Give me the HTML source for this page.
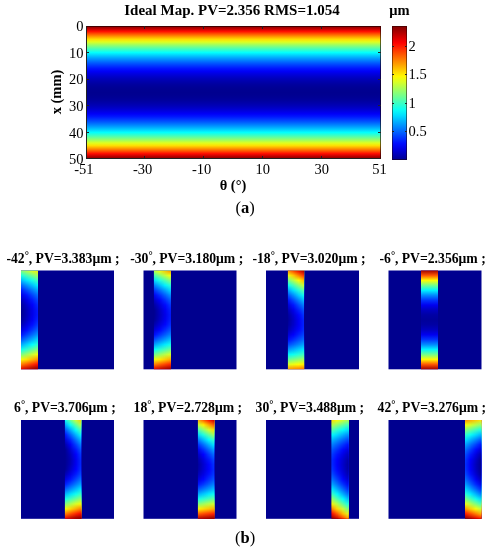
<!DOCTYPE html>
<html><head><meta charset="utf-8"><title>Figure</title>
<style>
html,body{margin:0;padding:0;background:#fff;overflow:hidden}
body{width:492px;height:550px;position:relative;overflow:hidden;font-family:"Liberation Serif",serif;color:#000}
div,i{position:absolute;display:block}
.t{white-space:nowrap;line-height:16px;height:16px}
.hm{left:86px;top:26px;width:294.6px;height:133.2px;background:linear-gradient(180deg,#800000 0.0%,#bd0000 2.0%,#ff0b00 4.0%,#ff5500 6.0%,#ff9b00 8.0%,#ffde00 10.0%,#e0ff1f 12.0%,#a3ff5c 14.0%,#6aff95 16.0%,#34ffcb 18.0%,#02fffd 20.0%,#00d1ff 22.0%,#00a5ff 24.0%,#007cff 26.0%,#0056ff 28.0%,#0034ff 30.0%,#0015ff 32.0%,#0000f8 34.0%,#0000e0 36.0%,#0000ca 38.0%,#0000b8 40.0%,#0000aa 42.0%,#00009e 44.0%,#000096 46.0%,#000091 48.0%,#00008f 50.0%,#000091 52.0%,#000096 54.0%,#00009e 56.0%,#0000aa 58.0%,#0000b8 60.0%,#0000ca 62.0%,#0000e0 64.0%,#0000f8 66.0%,#0015ff 68.0%,#0034ff 70.0%,#0056ff 72.0%,#007cff 74.0%,#00a5ff 76.0%,#00d1ff 78.0%,#02fffd 80.0%,#34ffcb 82.0%,#6aff95 84.0%,#a3ff5c 86.0%,#e0ff1f 88.0%,#ffde00 90.0%,#ff9b00 92.0%,#ff5500 94.0%,#ff0b00 96.0%,#bd0000 98.0%,#800000 100.0%)}
.ax{left:86px;top:26px;width:294.6px;height:133.2px;box-sizing:border-box;border:1px solid rgba(20,0,0,.6);border-left-color:#222;border-bottom-color:#222}
.cb{left:392px;top:26px;width:15px;height:133.6px;background:linear-gradient(180deg,#800000 0.0%,#a90000 4.2%,#d30000 8.3%,#fd0000 12.5%,#ff2800 16.7%,#ff5200 20.8%,#ff7c00 25.0%,#ffa500 29.2%,#ffcf00 33.3%,#fff900 37.5%,#dbff24 41.7%,#b1ff4e 45.8%,#87ff78 50.0%,#5effa1 54.2%,#34ffcb 58.3%,#0afff5 62.5%,#00dfff 66.7%,#00b5ff 70.8%,#008bff 75.0%,#0062ff 79.2%,#0038ff 83.3%,#000eff 87.5%,#0000e3 91.7%,#0000b9 95.8%,#00008f 100.0%)}
.cbx{left:392px;top:26px;width:15px;height:133.6px;box-sizing:border-box;border:1px solid rgba(30,0,0,.5)}
.tk{background:#222}
.yl{font-size:14.5px;text-align:right;width:30px;left:53.5px}
.xl{font-size:14.5px;text-align:center;width:40px;top:160.8px}
.cl{font-size:14.5px;left:408.5px}
.b{font-weight:bold}
.pn{width:93px;height:98.8px;background:#00008f;overflow:hidden}
.pn i{top:0;height:100%}
.pt{width:160px;text-align:center;font-weight:bold;font-size:13.7px;white-space:nowrap;line-height:16px;height:16px}
.pt sup{font-size:10.5px;position:relative;display:inline;top:-4.5px;margin:0 -0.2px 0 0;vertical-align:baseline;line-height:0;font-weight:bold}
.cap{font-size:16.5px;width:60px;text-align:center;line-height:20px;height:20px}
</style></head><body>
<div class="t b" style="left:82px;width:300px;text-align:center;top:2px;font-size:15px">Ideal Map. PV=2.356 RMS=1.054</div>
<div class="t b" style="left:389.3px;top:2.4px;font-size:14.5px">μm</div>
<div class="hm"></div><div class="ax"></div><div class="cb"></div><div class="cbx"></div>
<div class="t yl" style="top:18.0px">0</div>
<div class="t yl" style="top:44.6px">10</div>
<div class="tk" style="left:86px;top:52.1px;width:3px;height:1px"></div><div class="tk" style="left:377.6px;top:52.1px;width:3px;height:1px"></div>
<div class="t yl" style="top:71.3px">20</div>
<div class="tk" style="left:86px;top:78.8px;width:3px;height:1px"></div><div class="tk" style="left:377.6px;top:78.8px;width:3px;height:1px"></div>
<div class="t yl" style="top:97.9px">30</div>
<div class="tk" style="left:86px;top:105.4px;width:3px;height:1px"></div><div class="tk" style="left:377.6px;top:105.4px;width:3px;height:1px"></div>
<div class="t yl" style="top:124.6px">40</div>
<div class="tk" style="left:86px;top:132.1px;width:3px;height:1px"></div><div class="tk" style="left:377.6px;top:132.1px;width:3px;height:1px"></div>
<div class="t yl" style="top:151.2px">50</div>
<div class="t b" style="font-size:14.5px;width:60px;text-align:center;left:26.3px;top:84px;transform:rotate(-90deg)">x (mm)</div>
<div class="t xl" style="left:63.8px">-51</div>
<div class="t xl" style="left:122.7px">-30</div>
<div class="tk" style="left:144.4px;top:156.2px;width:1px;height:3px"></div><div class="tk" style="left:144.4px;top:26px;width:1px;height:3px"></div>
<div class="t xl" style="left:181.6px">-10</div>
<div class="tk" style="left:203.3px;top:156.2px;width:1px;height:3px"></div><div class="tk" style="left:203.3px;top:26px;width:1px;height:3px"></div>
<div class="t xl" style="left:242.8px">10</div>
<div class="tk" style="left:262.3px;top:156.2px;width:1px;height:3px"></div><div class="tk" style="left:262.3px;top:26px;width:1px;height:3px"></div>
<div class="t xl" style="left:301.7px">30</div>
<div class="tk" style="left:321.2px;top:156.2px;width:1px;height:3px"></div><div class="tk" style="left:321.2px;top:26px;width:1px;height:3px"></div>
<div class="t xl" style="left:359.6px">51</div>
<div class="t b" style="font-size:14.5px;left:183px;width:100px;text-align:center;top:176.5px">θ (°)</div>
<div class="t cl" style="top:37.9px">2</div>
<div class="tk" style="left:392px;top:46.0px;width:2px;height:1px"></div><div class="tk" style="left:405px;top:46.0px;width:2px;height:1px"></div>
<div class="t cl" style="top:66.3px">1.5</div>
<div class="tk" style="left:392px;top:74.4px;width:2px;height:1px"></div><div class="tk" style="left:405px;top:74.4px;width:2px;height:1px"></div>
<div class="t cl" style="top:94.7px">1</div>
<div class="tk" style="left:392px;top:102.8px;width:2px;height:1px"></div><div class="tk" style="left:405px;top:102.8px;width:2px;height:1px"></div>
<div class="t cl" style="top:123.1px">0.5</div>
<div class="tk" style="left:392px;top:131.2px;width:2px;height:1px"></div><div class="tk" style="left:405px;top:131.2px;width:2px;height:1px"></div>
<div class="cap" style="left:215.2px;top:198.3px">(<b>a</b>)</div>
<svg width="492" height="550" viewBox="0 0 492 550" style="position:absolute;left:0;top:0"><defs><linearGradient id="g0_0" x1="0" y1="0" x2="0" y2="1"><stop offset="0" stop-color="#8bff74"/><stop offset="0.05" stop-color="#1bffe4"/><stop offset="0.1" stop-color="#00b8ff"/><stop offset="0.15" stop-color="#0063ff"/><stop offset="0.2" stop-color="#001cff"/><stop offset="0.25" stop-color="#0000e3"/><stop offset="0.3" stop-color="#0000b8"/><stop offset="0.35" stop-color="#00009b"/><stop offset="0.4" stop-color="#00008f"/><stop offset="0.45" stop-color="#00008f"/><stop offset="0.5" stop-color="#000097"/><stop offset="0.55" stop-color="#0000b2"/><stop offset="0.6" stop-color="#0000da"/><stop offset="0.65" stop-color="#0011ff"/><stop offset="0.7" stop-color="#0056ff"/><stop offset="0.75" stop-color="#00a8ff"/><stop offset="0.8" stop-color="#09fff6"/><stop offset="0.85" stop-color="#77ff88"/><stop offset="0.9" stop-color="#f2ff0d"/><stop offset="0.95" stop-color="#ff8200"/><stop offset="1" stop-color="#ea0000"/></linearGradient><linearGradient id="g0_1" x1="0" y1="0" x2="0" y2="1"><stop offset="0" stop-color="#b9ff46"/><stop offset="0.05" stop-color="#49ffb6"/><stop offset="0.1" stop-color="#00e6ff"/><stop offset="0.15" stop-color="#0092ff"/><stop offset="0.2" stop-color="#004bff"/><stop offset="0.25" stop-color="#0013ff"/><stop offset="0.3" stop-color="#0000e7"/><stop offset="0.35" stop-color="#0000ca"/><stop offset="0.4" stop-color="#0000ba"/><stop offset="0.45" stop-color="#0000b9"/><stop offset="0.5" stop-color="#0000c5"/><stop offset="0.55" stop-color="#0000e0"/><stop offset="0.6" stop-color="#0009ff"/><stop offset="0.65" stop-color="#003eff"/><stop offset="0.7" stop-color="#0082ff"/><stop offset="0.75" stop-color="#00d3ff"/><stop offset="0.8" stop-color="#33ffcc"/><stop offset="0.85" stop-color="#a0ff5f"/><stop offset="0.9" stop-color="#ffe300"/><stop offset="0.95" stop-color="#ff5a00"/><stop offset="1" stop-color="#c30000"/></linearGradient><linearGradient id="h0_1" gradientUnits="userSpaceOnUse" x1="21.00" y1="0" x2="26.67" y2="0"><stop offset="0" stop-color="#000"/><stop offset="1" stop-color="#fff"/></linearGradient><mask id="m0_1" maskUnits="userSpaceOnUse" x="21.00" y="270.5" width="17.00" height="98.8"><rect x="21.00" y="270.5" width="17.00" height="98.8" fill="url(#h0_1)"/></mask><linearGradient id="g0_2" x1="0" y1="0" x2="0" y2="1"><stop offset="0" stop-color="#e7ff18"/><stop offset="0.05" stop-color="#77ff88"/><stop offset="0.1" stop-color="#16ffe9"/><stop offset="0.15" stop-color="#00c1ff"/><stop offset="0.2" stop-color="#007aff"/><stop offset="0.25" stop-color="#0042ff"/><stop offset="0.3" stop-color="#0017ff"/><stop offset="0.35" stop-color="#0000f9"/><stop offset="0.4" stop-color="#0000e9"/><stop offset="0.45" stop-color="#0000e8"/><stop offset="0.5" stop-color="#0000f4"/><stop offset="0.55" stop-color="#000fff"/><stop offset="0.6" stop-color="#0036ff"/><stop offset="0.65" stop-color="#006bff"/><stop offset="0.7" stop-color="#00aeff"/><stop offset="0.75" stop-color="#00ffff"/><stop offset="0.8" stop-color="#5effa1"/><stop offset="0.85" stop-color="#caff35"/><stop offset="0.9" stop-color="#ffba00"/><stop offset="0.95" stop-color="#ff3200"/><stop offset="1" stop-color="#9c0000"/></linearGradient><linearGradient id="h0_2" gradientUnits="userSpaceOnUse" x1="26.67" y1="0" x2="32.33" y2="0"><stop offset="0" stop-color="#000"/><stop offset="1" stop-color="#fff"/></linearGradient><mask id="m0_2" maskUnits="userSpaceOnUse" x="26.67" y="270.5" width="11.33" height="98.8"><rect x="26.67" y="270.5" width="11.33" height="98.8" fill="url(#h0_2)"/></mask><linearGradient id="g0_3" x1="0" y1="0" x2="0" y2="1"><stop offset="0" stop-color="#ffe900"/><stop offset="0.05" stop-color="#a6ff59"/><stop offset="0.1" stop-color="#44ffbb"/><stop offset="0.15" stop-color="#00f0ff"/><stop offset="0.2" stop-color="#00a9ff"/><stop offset="0.25" stop-color="#0071ff"/><stop offset="0.3" stop-color="#0046ff"/><stop offset="0.35" stop-color="#0029ff"/><stop offset="0.4" stop-color="#0019ff"/><stop offset="0.45" stop-color="#0017ff"/><stop offset="0.5" stop-color="#0023ff"/><stop offset="0.55" stop-color="#003dff"/><stop offset="0.6" stop-color="#0064ff"/><stop offset="0.65" stop-color="#0098ff"/><stop offset="0.7" stop-color="#00dbff"/><stop offset="0.75" stop-color="#2cffd3"/><stop offset="0.8" stop-color="#89ff76"/><stop offset="0.85" stop-color="#f4ff0b"/><stop offset="0.9" stop-color="#ff9100"/><stop offset="0.95" stop-color="#ff0a00"/><stop offset="1" stop-color="#800000"/></linearGradient><linearGradient id="h0_3" gradientUnits="userSpaceOnUse" x1="32.33" y1="0" x2="38.00" y2="0"><stop offset="0" stop-color="#000"/><stop offset="1" stop-color="#fff"/></linearGradient><mask id="m0_3" maskUnits="userSpaceOnUse" x="32.33" y="270.5" width="5.67" height="98.8"><rect x="32.33" y="270.5" width="5.67" height="98.8" fill="url(#h0_3)"/></mask><linearGradient id="g1_0" x1="0" y1="0" x2="0" y2="1"><stop offset="0" stop-color="#beff41"/><stop offset="0.05" stop-color="#46ffb9"/><stop offset="0.1" stop-color="#00dbff"/><stop offset="0.15" stop-color="#0080ff"/><stop offset="0.2" stop-color="#0033ff"/><stop offset="0.25" stop-color="#0000f3"/><stop offset="0.3" stop-color="#0000c3"/><stop offset="0.35" stop-color="#0000a2"/><stop offset="0.4" stop-color="#00008f"/><stop offset="0.45" stop-color="#00008f"/><stop offset="0.5" stop-color="#000093"/><stop offset="0.55" stop-color="#0000ac"/><stop offset="0.6" stop-color="#0000d2"/><stop offset="0.65" stop-color="#0008ff"/><stop offset="0.7" stop-color="#004cff"/><stop offset="0.75" stop-color="#009eff"/><stop offset="0.8" stop-color="#00ffff"/><stop offset="0.85" stop-color="#6eff91"/><stop offset="0.9" stop-color="#ecff13"/><stop offset="0.95" stop-color="#ff8600"/><stop offset="1" stop-color="#eb0000"/></linearGradient><linearGradient id="g1_1" x1="0" y1="0" x2="0" y2="1"><stop offset="0" stop-color="#feff01"/><stop offset="0.05" stop-color="#84ff7b"/><stop offset="0.1" stop-color="#18ffe7"/><stop offset="0.15" stop-color="#00baff"/><stop offset="0.2" stop-color="#006bff"/><stop offset="0.25" stop-color="#002bff"/><stop offset="0.3" stop-color="#0000f8"/><stop offset="0.35" stop-color="#0000d5"/><stop offset="0.4" stop-color="#0000c0"/><stop offset="0.45" stop-color="#0000ba"/><stop offset="0.5" stop-color="#0000c2"/><stop offset="0.55" stop-color="#0000d8"/><stop offset="0.6" stop-color="#0000fe"/><stop offset="0.65" stop-color="#0032ff"/><stop offset="0.7" stop-color="#0074ff"/><stop offset="0.75" stop-color="#00c5ff"/><stop offset="0.8" stop-color="#25ffda"/><stop offset="0.85" stop-color="#93ff6c"/><stop offset="0.9" stop-color="#ffef00"/><stop offset="0.95" stop-color="#ff6500"/><stop offset="1" stop-color="#cb0000"/></linearGradient><linearGradient id="h1_1" gradientUnits="userSpaceOnUse" x1="153.90" y1="0" x2="159.57" y2="0"><stop offset="0" stop-color="#000"/><stop offset="1" stop-color="#fff"/></linearGradient><mask id="m1_1" maskUnits="userSpaceOnUse" x="153.90" y="270.5" width="17.00" height="98.8"><rect x="153.90" y="270.5" width="17.00" height="98.8" fill="url(#h1_1)"/></mask><linearGradient id="g1_2" x1="0" y1="0" x2="0" y2="1"><stop offset="0" stop-color="#ffc000"/><stop offset="0.05" stop-color="#c1ff3e"/><stop offset="0.1" stop-color="#54ffab"/><stop offset="0.15" stop-color="#00f4ff"/><stop offset="0.2" stop-color="#00a3ff"/><stop offset="0.25" stop-color="#0061ff"/><stop offset="0.3" stop-color="#002eff"/><stop offset="0.35" stop-color="#0009ff"/><stop offset="0.4" stop-color="#0000f2"/><stop offset="0.45" stop-color="#0000ea"/><stop offset="0.5" stop-color="#0000f0"/><stop offset="0.55" stop-color="#0006ff"/><stop offset="0.6" stop-color="#002aff"/><stop offset="0.65" stop-color="#005cff"/><stop offset="0.7" stop-color="#009dff"/><stop offset="0.75" stop-color="#00ecff"/><stop offset="0.8" stop-color="#4bffb4"/><stop offset="0.85" stop-color="#b7ff48"/><stop offset="0.9" stop-color="#ffcc00"/><stop offset="0.95" stop-color="#ff4300"/><stop offset="1" stop-color="#aa0000"/></linearGradient><linearGradient id="h1_2" gradientUnits="userSpaceOnUse" x1="159.57" y1="0" x2="165.23" y2="0"><stop offset="0" stop-color="#000"/><stop offset="1" stop-color="#fff"/></linearGradient><mask id="m1_2" maskUnits="userSpaceOnUse" x="159.57" y="270.5" width="11.33" height="98.8"><rect x="159.57" y="270.5" width="11.33" height="98.8" fill="url(#h1_2)"/></mask><linearGradient id="g1_3" x1="0" y1="0" x2="0" y2="1"><stop offset="0" stop-color="#ff8100"/><stop offset="0.05" stop-color="#ffff00"/><stop offset="0.1" stop-color="#90ff6f"/><stop offset="0.15" stop-color="#2fffd0"/><stop offset="0.2" stop-color="#00dcff"/><stop offset="0.25" stop-color="#0098ff"/><stop offset="0.3" stop-color="#0063ff"/><stop offset="0.35" stop-color="#003cff"/><stop offset="0.4" stop-color="#0024ff"/><stop offset="0.45" stop-color="#001bff"/><stop offset="0.5" stop-color="#0020ff"/><stop offset="0.55" stop-color="#0033ff"/><stop offset="0.6" stop-color="#0055ff"/><stop offset="0.65" stop-color="#0086ff"/><stop offset="0.7" stop-color="#00c5ff"/><stop offset="0.75" stop-color="#14ffeb"/><stop offset="0.8" stop-color="#70ff8f"/><stop offset="0.85" stop-color="#dbff24"/><stop offset="0.9" stop-color="#ffa900"/><stop offset="0.95" stop-color="#ff2100"/><stop offset="1" stop-color="#8a0000"/></linearGradient><linearGradient id="h1_3" gradientUnits="userSpaceOnUse" x1="165.23" y1="0" x2="170.90" y2="0"><stop offset="0" stop-color="#000"/><stop offset="1" stop-color="#fff"/></linearGradient><mask id="m1_3" maskUnits="userSpaceOnUse" x="165.23" y="270.5" width="5.67" height="98.8"><rect x="165.23" y="270.5" width="5.67" height="98.8" fill="url(#h1_3)"/></mask><linearGradient id="g2_0" x1="0" y1="0" x2="0" y2="1"><stop offset="0" stop-color="#ff8b00"/><stop offset="0.05" stop-color="#e9ff16"/><stop offset="0.1" stop-color="#6dff92"/><stop offset="0.15" stop-color="#00ffff"/><stop offset="0.2" stop-color="#00a0ff"/><stop offset="0.25" stop-color="#004fff"/><stop offset="0.3" stop-color="#000eff"/><stop offset="0.35" stop-color="#0000d9"/><stop offset="0.4" stop-color="#0000b4"/><stop offset="0.45" stop-color="#00009e"/><stop offset="0.5" stop-color="#000096"/><stop offset="0.55" stop-color="#00009c"/><stop offset="0.6" stop-color="#0000b1"/><stop offset="0.65" stop-color="#0000d5"/><stop offset="0.7" stop-color="#0008ff"/><stop offset="0.75" stop-color="#0048ff"/><stop offset="0.8" stop-color="#0097ff"/><stop offset="0.85" stop-color="#00f4ff"/><stop offset="0.9" stop-color="#61ff9e"/><stop offset="0.95" stop-color="#dbff24"/><stop offset="1" stop-color="#ff9a00"/></linearGradient><linearGradient id="g2_1" x1="0" y1="0" x2="0" y2="1"><stop offset="0" stop-color="#ff3b00"/><stop offset="0.05" stop-color="#ffc800"/><stop offset="0.1" stop-color="#b7ff48"/><stop offset="0.15" stop-color="#46ffb9"/><stop offset="0.2" stop-color="#00e3ff"/><stop offset="0.25" stop-color="#0090ff"/><stop offset="0.3" stop-color="#004bff"/><stop offset="0.35" stop-color="#0014ff"/><stop offset="0.4" stop-color="#0000eb"/><stop offset="0.45" stop-color="#0000d1"/><stop offset="0.5" stop-color="#0000c6"/><stop offset="0.55" stop-color="#0000c9"/><stop offset="0.6" stop-color="#0000db"/><stop offset="0.65" stop-color="#0000fb"/><stop offset="0.7" stop-color="#002bff"/><stop offset="0.75" stop-color="#0068ff"/><stop offset="0.8" stop-color="#00b3ff"/><stop offset="0.85" stop-color="#0efff1"/><stop offset="0.9" stop-color="#77ff88"/><stop offset="0.95" stop-color="#eeff11"/><stop offset="1" stop-color="#ff8b00"/></linearGradient><linearGradient id="h2_1" gradientUnits="userSpaceOnUse" x1="287.90" y1="0" x2="293.37" y2="0"><stop offset="0" stop-color="#000"/><stop offset="1" stop-color="#fff"/></linearGradient><mask id="m2_1" maskUnits="userSpaceOnUse" x="287.90" y="270.5" width="16.40" height="98.8"><rect x="287.90" y="270.5" width="16.40" height="98.8" fill="url(#h2_1)"/></mask><linearGradient id="g2_2" x1="0" y1="0" x2="0" y2="1"><stop offset="0" stop-color="#ea0000"/><stop offset="0.05" stop-color="#ff7b00"/><stop offset="0.1" stop-color="#fffe00"/><stop offset="0.15" stop-color="#8dff72"/><stop offset="0.2" stop-color="#28ffd7"/><stop offset="0.25" stop-color="#00d0ff"/><stop offset="0.3" stop-color="#0088ff"/><stop offset="0.35" stop-color="#004eff"/><stop offset="0.4" stop-color="#0022ff"/><stop offset="0.45" stop-color="#0005ff"/><stop offset="0.5" stop-color="#0000f6"/><stop offset="0.55" stop-color="#0000f6"/><stop offset="0.6" stop-color="#0005ff"/><stop offset="0.65" stop-color="#0022ff"/><stop offset="0.7" stop-color="#004eff"/><stop offset="0.75" stop-color="#0087ff"/><stop offset="0.8" stop-color="#00d0ff"/><stop offset="0.85" stop-color="#27ffd8"/><stop offset="0.9" stop-color="#8dff72"/><stop offset="0.95" stop-color="#fffe00"/><stop offset="1" stop-color="#ff7c00"/></linearGradient><linearGradient id="h2_2" gradientUnits="userSpaceOnUse" x1="293.37" y1="0" x2="298.83" y2="0"><stop offset="0" stop-color="#000"/><stop offset="1" stop-color="#fff"/></linearGradient><mask id="m2_2" maskUnits="userSpaceOnUse" x="293.37" y="270.5" width="10.93" height="98.8"><rect x="293.37" y="270.5" width="10.93" height="98.8" fill="url(#h2_2)"/></mask><linearGradient id="g2_3" x1="0" y1="0" x2="0" y2="1"><stop offset="0" stop-color="#9a0000"/><stop offset="0.05" stop-color="#ff2f00"/><stop offset="0.1" stop-color="#ffb400"/><stop offset="0.15" stop-color="#d3ff2c"/><stop offset="0.2" stop-color="#6bff94"/><stop offset="0.25" stop-color="#11ffee"/><stop offset="0.3" stop-color="#00c5ff"/><stop offset="0.35" stop-color="#0088ff"/><stop offset="0.4" stop-color="#0059ff"/><stop offset="0.45" stop-color="#0039ff"/><stop offset="0.5" stop-color="#0027ff"/><stop offset="0.55" stop-color="#0024ff"/><stop offset="0.6" stop-color="#002fff"/><stop offset="0.65" stop-color="#0049ff"/><stop offset="0.7" stop-color="#0071ff"/><stop offset="0.75" stop-color="#00a7ff"/><stop offset="0.8" stop-color="#00ecff"/><stop offset="0.85" stop-color="#41ffbe"/><stop offset="0.9" stop-color="#a2ff5d"/><stop offset="0.95" stop-color="#ffeb00"/><stop offset="1" stop-color="#ff6c00"/></linearGradient><linearGradient id="h2_3" gradientUnits="userSpaceOnUse" x1="298.83" y1="0" x2="304.30" y2="0"><stop offset="0" stop-color="#000"/><stop offset="1" stop-color="#fff"/></linearGradient><mask id="m2_3" maskUnits="userSpaceOnUse" x="298.83" y="270.5" width="5.47" height="98.8"><rect x="298.83" y="270.5" width="5.47" height="98.8" fill="url(#h2_3)"/></mask><linearGradient id="g3_0" x1="0" y1="0" x2="0" y2="1"><stop offset="0" stop-color="#a10000"/><stop offset="0.05" stop-color="#ff5800"/><stop offset="0.1" stop-color="#fffc00"/><stop offset="0.15" stop-color="#72ff8d"/><stop offset="0.2" stop-color="#00f5ff"/><stop offset="0.25" stop-color="#008bff"/><stop offset="0.3" stop-color="#0035ff"/><stop offset="0.35" stop-color="#0000f0"/><stop offset="0.4" stop-color="#0000c0"/><stop offset="0.45" stop-color="#0000a4"/><stop offset="0.5" stop-color="#00009a"/><stop offset="0.55" stop-color="#0000a4"/><stop offset="0.6" stop-color="#0000c0"/><stop offset="0.65" stop-color="#0000f0"/><stop offset="0.7" stop-color="#0035ff"/><stop offset="0.75" stop-color="#008bff"/><stop offset="0.8" stop-color="#00f5ff"/><stop offset="0.85" stop-color="#72ff8d"/><stop offset="0.9" stop-color="#fffc00"/><stop offset="0.95" stop-color="#ff5800"/><stop offset="1" stop-color="#a10000"/></linearGradient><linearGradient id="g4_0" x1="0" y1="0" x2="0" y2="1"><stop offset="0" stop-color="#01fffe"/><stop offset="0.05" stop-color="#00a3ff"/><stop offset="0.1" stop-color="#0052ff"/><stop offset="0.15" stop-color="#000eff"/><stop offset="0.2" stop-color="#0000d5"/><stop offset="0.25" stop-color="#0000aa"/><stop offset="0.3" stop-color="#00008f"/><stop offset="0.35" stop-color="#00008f"/><stop offset="0.4" stop-color="#00008f"/><stop offset="0.45" stop-color="#00008f"/><stop offset="0.5" stop-color="#000090"/><stop offset="0.55" stop-color="#0000b0"/><stop offset="0.6" stop-color="#0000dd"/><stop offset="0.65" stop-color="#0018ff"/><stop offset="0.7" stop-color="#005eff"/><stop offset="0.75" stop-color="#00b1ff"/><stop offset="0.8" stop-color="#11ffee"/><stop offset="0.85" stop-color="#7eff81"/><stop offset="0.9" stop-color="#f6ff09"/><stop offset="0.95" stop-color="#ff8300"/><stop offset="1" stop-color="#f00000"/></linearGradient><linearGradient id="g4_1" x1="0" y1="0" x2="0" y2="1"><stop offset="0" stop-color="#67ff98"/><stop offset="0.05" stop-color="#03fffc"/><stop offset="0.1" stop-color="#00abff"/><stop offset="0.15" stop-color="#0061ff"/><stop offset="0.2" stop-color="#0024ff"/><stop offset="0.25" stop-color="#0000f4"/><stop offset="0.3" stop-color="#0000d1"/><stop offset="0.35" stop-color="#0000bb"/><stop offset="0.4" stop-color="#0000b2"/><stop offset="0.45" stop-color="#0000b6"/><stop offset="0.5" stop-color="#0000c7"/><stop offset="0.55" stop-color="#0000e5"/><stop offset="0.6" stop-color="#0011ff"/><stop offset="0.65" stop-color="#0049ff"/><stop offset="0.7" stop-color="#008eff"/><stop offset="0.75" stop-color="#00e0ff"/><stop offset="0.8" stop-color="#40ffbf"/><stop offset="0.85" stop-color="#acff53"/><stop offset="0.9" stop-color="#ffd900"/><stop offset="0.95" stop-color="#ff5300"/><stop offset="1" stop-color="#bf0000"/></linearGradient><linearGradient id="h4_1" gradientUnits="userSpaceOnUse" x1="64.90" y1="0" x2="70.43" y2="0"><stop offset="0" stop-color="#000"/><stop offset="1" stop-color="#fff"/></linearGradient><mask id="m4_1" maskUnits="userSpaceOnUse" x="64.90" y="420" width="16.60" height="98.8"><rect x="64.90" y="420" width="16.60" height="98.8" fill="url(#h4_1)"/></mask><linearGradient id="g4_2" x1="0" y1="0" x2="0" y2="1"><stop offset="0" stop-color="#cdff32"/><stop offset="0.05" stop-color="#63ff9c"/><stop offset="0.1" stop-color="#06fff9"/><stop offset="0.15" stop-color="#00b5ff"/><stop offset="0.2" stop-color="#0073ff"/><stop offset="0.25" stop-color="#003eff"/><stop offset="0.3" stop-color="#0017ff"/><stop offset="0.35" stop-color="#0000fc"/><stop offset="0.4" stop-color="#0000ef"/><stop offset="0.45" stop-color="#0000f0"/><stop offset="0.5" stop-color="#0000fe"/><stop offset="0.55" stop-color="#001aff"/><stop offset="0.6" stop-color="#0043ff"/><stop offset="0.65" stop-color="#007aff"/><stop offset="0.7" stop-color="#00bdff"/><stop offset="0.75" stop-color="#0ffff0"/><stop offset="0.8" stop-color="#6eff91"/><stop offset="0.85" stop-color="#daff25"/><stop offset="0.9" stop-color="#ffab00"/><stop offset="0.95" stop-color="#ff2400"/><stop offset="1" stop-color="#8f0000"/></linearGradient><linearGradient id="h4_2" gradientUnits="userSpaceOnUse" x1="70.43" y1="0" x2="75.97" y2="0"><stop offset="0" stop-color="#000"/><stop offset="1" stop-color="#fff"/></linearGradient><mask id="m4_2" maskUnits="userSpaceOnUse" x="70.43" y="420" width="11.07" height="98.8"><rect x="70.43" y="420" width="11.07" height="98.8" fill="url(#h4_2)"/></mask><linearGradient id="g4_3" x1="0" y1="0" x2="0" y2="1"><stop offset="0" stop-color="#ffcb00"/><stop offset="0.05" stop-color="#c2ff3d"/><stop offset="0.1" stop-color="#5fffa0"/><stop offset="0.15" stop-color="#0afff5"/><stop offset="0.2" stop-color="#00c1ff"/><stop offset="0.25" stop-color="#0088ff"/><stop offset="0.3" stop-color="#005cff"/><stop offset="0.35" stop-color="#003dff"/><stop offset="0.4" stop-color="#002dff"/><stop offset="0.45" stop-color="#002bff"/><stop offset="0.5" stop-color="#0036ff"/><stop offset="0.55" stop-color="#004fff"/><stop offset="0.6" stop-color="#0076ff"/><stop offset="0.65" stop-color="#00aaff"/><stop offset="0.7" stop-color="#00edff"/><stop offset="0.75" stop-color="#3effc1"/><stop offset="0.8" stop-color="#9cff63"/><stop offset="0.85" stop-color="#fff600"/><stop offset="0.9" stop-color="#ff7c00"/><stop offset="0.95" stop-color="#f40000"/><stop offset="1" stop-color="#800000"/></linearGradient><linearGradient id="h4_3" gradientUnits="userSpaceOnUse" x1="75.97" y1="0" x2="81.50" y2="0"><stop offset="0" stop-color="#000"/><stop offset="1" stop-color="#fff"/></linearGradient><mask id="m4_3" maskUnits="userSpaceOnUse" x="75.97" y="420" width="5.53" height="98.8"><rect x="75.97" y="420" width="5.53" height="98.8" fill="url(#h4_3)"/></mask><linearGradient id="g5_0" x1="0" y1="0" x2="0" y2="1"><stop offset="0" stop-color="#ffb200"/><stop offset="0.05" stop-color="#c0ff3f"/><stop offset="0.1" stop-color="#44ffbb"/><stop offset="0.15" stop-color="#00d6ff"/><stop offset="0.2" stop-color="#007aff"/><stop offset="0.25" stop-color="#002eff"/><stop offset="0.3" stop-color="#0000f1"/><stop offset="0.35" stop-color="#0000c5"/><stop offset="0.4" stop-color="#0000a9"/><stop offset="0.45" stop-color="#00009d"/><stop offset="0.5" stop-color="#0000a2"/><stop offset="0.55" stop-color="#0000b6"/><stop offset="0.6" stop-color="#0000da"/><stop offset="0.65" stop-color="#0010ff"/><stop offset="0.7" stop-color="#0054ff"/><stop offset="0.75" stop-color="#00a9ff"/><stop offset="0.8" stop-color="#0efff1"/><stop offset="0.85" stop-color="#83ff7c"/><stop offset="0.9" stop-color="#fff600"/><stop offset="0.95" stop-color="#ff6200"/><stop offset="1" stop-color="#bc0000"/></linearGradient><linearGradient id="g5_1" x1="0" y1="0" x2="0" y2="1"><stop offset="0" stop-color="#ff5f00"/><stop offset="0.05" stop-color="#fff000"/><stop offset="0.1" stop-color="#8fff70"/><stop offset="0.15" stop-color="#1fffe0"/><stop offset="0.2" stop-color="#00beff"/><stop offset="0.25" stop-color="#006eff"/><stop offset="0.3" stop-color="#002fff"/><stop offset="0.35" stop-color="#0000ff"/><stop offset="0.4" stop-color="#0000e0"/><stop offset="0.45" stop-color="#0000d0"/><stop offset="0.5" stop-color="#0000d2"/><stop offset="0.55" stop-color="#0000e3"/><stop offset="0.6" stop-color="#0005ff"/><stop offset="0.65" stop-color="#0037ff"/><stop offset="0.7" stop-color="#0078ff"/><stop offset="0.75" stop-color="#00caff"/><stop offset="0.8" stop-color="#2dffd2"/><stop offset="0.85" stop-color="#9fff60"/><stop offset="0.9" stop-color="#ffdd00"/><stop offset="0.95" stop-color="#ff4b00"/><stop offset="1" stop-color="#a70000"/></linearGradient><linearGradient id="h5_1" gradientUnits="userSpaceOnUse" x1="197.90" y1="0" x2="203.43" y2="0"><stop offset="0" stop-color="#000"/><stop offset="1" stop-color="#fff"/></linearGradient><mask id="m5_1" maskUnits="userSpaceOnUse" x="197.90" y="420" width="16.60" height="98.8"><rect x="197.90" y="420" width="16.60" height="98.8" fill="url(#h5_1)"/></mask><linearGradient id="g5_2" x1="0" y1="0" x2="0" y2="1"><stop offset="0" stop-color="#ff0d00"/><stop offset="0.05" stop-color="#ffa100"/><stop offset="0.1" stop-color="#d9ff26"/><stop offset="0.15" stop-color="#66ff99"/><stop offset="0.2" stop-color="#03fffc"/><stop offset="0.25" stop-color="#00afff"/><stop offset="0.3" stop-color="#006cff"/><stop offset="0.35" stop-color="#0039ff"/><stop offset="0.4" stop-color="#0017ff"/><stop offset="0.45" stop-color="#0004ff"/><stop offset="0.5" stop-color="#0002ff"/><stop offset="0.55" stop-color="#0011ff"/><stop offset="0.6" stop-color="#002fff"/><stop offset="0.65" stop-color="#005dff"/><stop offset="0.7" stop-color="#009cff"/><stop offset="0.75" stop-color="#00ebff"/><stop offset="0.8" stop-color="#4bffb4"/><stop offset="0.85" stop-color="#bbff44"/><stop offset="0.9" stop-color="#ffc400"/><stop offset="0.95" stop-color="#ff3400"/><stop offset="1" stop-color="#930000"/></linearGradient><linearGradient id="h5_2" gradientUnits="userSpaceOnUse" x1="203.43" y1="0" x2="208.97" y2="0"><stop offset="0" stop-color="#000"/><stop offset="1" stop-color="#fff"/></linearGradient><mask id="m5_2" maskUnits="userSpaceOnUse" x="203.43" y="420" width="11.07" height="98.8"><rect x="203.43" y="420" width="11.07" height="98.8" fill="url(#h5_2)"/></mask><linearGradient id="g5_3" x1="0" y1="0" x2="0" y2="1"><stop offset="0" stop-color="#ba0000"/><stop offset="0.05" stop-color="#ff5200"/><stop offset="0.1" stop-color="#ffda00"/><stop offset="0.15" stop-color="#adff52"/><stop offset="0.2" stop-color="#46ffb9"/><stop offset="0.25" stop-color="#00efff"/><stop offset="0.3" stop-color="#00a9ff"/><stop offset="0.35" stop-color="#0073ff"/><stop offset="0.4" stop-color="#004dff"/><stop offset="0.45" stop-color="#0037ff"/><stop offset="0.5" stop-color="#0032ff"/><stop offset="0.55" stop-color="#003dff"/><stop offset="0.6" stop-color="#0059ff"/><stop offset="0.65" stop-color="#0084ff"/><stop offset="0.7" stop-color="#00c0ff"/><stop offset="0.75" stop-color="#0dfff2"/><stop offset="0.8" stop-color="#6aff95"/><stop offset="0.85" stop-color="#d6ff29"/><stop offset="0.9" stop-color="#ffab00"/><stop offset="0.95" stop-color="#ff1d00"/><stop offset="1" stop-color="#800000"/></linearGradient><linearGradient id="h5_3" gradientUnits="userSpaceOnUse" x1="208.97" y1="0" x2="214.50" y2="0"><stop offset="0" stop-color="#000"/><stop offset="1" stop-color="#fff"/></linearGradient><mask id="m5_3" maskUnits="userSpaceOnUse" x="208.97" y="420" width="5.53" height="98.8"><rect x="208.97" y="420" width="5.53" height="98.8" fill="url(#h5_3)"/></mask><linearGradient id="g6_0" x1="0" y1="0" x2="0" y2="1"><stop offset="0" stop-color="#ffd600"/><stop offset="0.05" stop-color="#b9ff46"/><stop offset="0.1" stop-color="#58ffa7"/><stop offset="0.15" stop-color="#04fffb"/><stop offset="0.2" stop-color="#00bdff"/><stop offset="0.25" stop-color="#0085ff"/><stop offset="0.3" stop-color="#005aff"/><stop offset="0.35" stop-color="#003dff"/><stop offset="0.4" stop-color="#002dff"/><stop offset="0.45" stop-color="#002cff"/><stop offset="0.5" stop-color="#0037ff"/><stop offset="0.55" stop-color="#0051ff"/><stop offset="0.6" stop-color="#0078ff"/><stop offset="0.65" stop-color="#00acff"/><stop offset="0.7" stop-color="#00efff"/><stop offset="0.75" stop-color="#40ffbf"/><stop offset="0.8" stop-color="#9dff62"/><stop offset="0.85" stop-color="#fff500"/><stop offset="0.9" stop-color="#ff7c00"/><stop offset="0.95" stop-color="#f50000"/><stop offset="1" stop-color="#800000"/></linearGradient><linearGradient id="g6_1" x1="0" y1="0" x2="0" y2="1"><stop offset="0" stop-color="#fbff04"/><stop offset="0.05" stop-color="#8eff71"/><stop offset="0.1" stop-color="#2effd1"/><stop offset="0.15" stop-color="#00daff"/><stop offset="0.2" stop-color="#0094ff"/><stop offset="0.25" stop-color="#005bff"/><stop offset="0.3" stop-color="#0030ff"/><stop offset="0.35" stop-color="#0011ff"/><stop offset="0.4" stop-color="#0000ff"/><stop offset="0.45" stop-color="#0000fb"/><stop offset="0.5" stop-color="#0005ff"/><stop offset="0.55" stop-color="#001bff"/><stop offset="0.6" stop-color="#003eff"/><stop offset="0.65" stop-color="#006eff"/><stop offset="0.7" stop-color="#00abff"/><stop offset="0.75" stop-color="#00f6ff"/><stop offset="0.8" stop-color="#4effb1"/><stop offset="0.85" stop-color="#b3ff4c"/><stop offset="0.9" stop-color="#ffd900"/><stop offset="0.95" stop-color="#ff5a00"/><stop offset="1" stop-color="#cd0000"/></linearGradient><linearGradient id="h6_1" gradientUnits="userSpaceOnUse" x1="331.40" y1="0" x2="337.20" y2="0"><stop offset="0" stop-color="#000"/><stop offset="1" stop-color="#fff"/></linearGradient><mask id="m6_1" maskUnits="userSpaceOnUse" x="331.40" y="420" width="17.40" height="98.8"><rect x="331.40" y="420" width="17.40" height="98.8" fill="url(#h6_1)"/></mask><linearGradient id="g6_2" x1="0" y1="0" x2="0" y2="1"><stop offset="0" stop-color="#ceff31"/><stop offset="0.05" stop-color="#63ff9c"/><stop offset="0.1" stop-color="#04fffb"/><stop offset="0.15" stop-color="#00b1ff"/><stop offset="0.2" stop-color="#006bff"/><stop offset="0.25" stop-color="#0032ff"/><stop offset="0.3" stop-color="#0006ff"/><stop offset="0.35" stop-color="#0000e5"/><stop offset="0.4" stop-color="#0000d1"/><stop offset="0.45" stop-color="#0000cb"/><stop offset="0.5" stop-color="#0000d1"/><stop offset="0.55" stop-color="#0000e3"/><stop offset="0.6" stop-color="#0004ff"/><stop offset="0.65" stop-color="#002fff"/><stop offset="0.7" stop-color="#0068ff"/><stop offset="0.75" stop-color="#00adff"/><stop offset="0.8" stop-color="#00feff"/><stop offset="0.85" stop-color="#5effa1"/><stop offset="0.9" stop-color="#c8ff37"/><stop offset="0.95" stop-color="#ffbe00"/><stop offset="1" stop-color="#ff3a00"/></linearGradient><linearGradient id="h6_2" gradientUnits="userSpaceOnUse" x1="337.20" y1="0" x2="343.00" y2="0"><stop offset="0" stop-color="#000"/><stop offset="1" stop-color="#fff"/></linearGradient><mask id="m6_2" maskUnits="userSpaceOnUse" x="337.20" y="420" width="11.60" height="98.8"><rect x="337.20" y="420" width="11.60" height="98.8" fill="url(#h6_2)"/></mask><linearGradient id="g6_3" x1="0" y1="0" x2="0" y2="1"><stop offset="0" stop-color="#a2ff5d"/><stop offset="0.05" stop-color="#38ffc7"/><stop offset="0.1" stop-color="#00d9ff"/><stop offset="0.15" stop-color="#0088ff"/><stop offset="0.2" stop-color="#0042ff"/><stop offset="0.25" stop-color="#0009ff"/><stop offset="0.3" stop-color="#0000da"/><stop offset="0.35" stop-color="#0000b9"/><stop offset="0.4" stop-color="#0000a4"/><stop offset="0.45" stop-color="#00009b"/><stop offset="0.5" stop-color="#00009e"/><stop offset="0.55" stop-color="#0000ad"/><stop offset="0.6" stop-color="#0000c8"/><stop offset="0.65" stop-color="#0000f0"/><stop offset="0.7" stop-color="#0024ff"/><stop offset="0.75" stop-color="#0064ff"/><stop offset="0.8" stop-color="#00afff"/><stop offset="0.85" stop-color="#08fff7"/><stop offset="0.9" stop-color="#6cff93"/><stop offset="0.95" stop-color="#dcff23"/><stop offset="1" stop-color="#ffa600"/></linearGradient><linearGradient id="h6_3" gradientUnits="userSpaceOnUse" x1="343.00" y1="0" x2="348.80" y2="0"><stop offset="0" stop-color="#000"/><stop offset="1" stop-color="#fff"/></linearGradient><mask id="m6_3" maskUnits="userSpaceOnUse" x="343.00" y="420" width="5.80" height="98.8"><rect x="343.00" y="420" width="5.80" height="98.8" fill="url(#h6_3)"/></mask><linearGradient id="g7_0" x1="0" y1="0" x2="0" y2="1"><stop offset="0" stop-color="#ff8900"/><stop offset="0.05" stop-color="#fcff03"/><stop offset="0.1" stop-color="#92ff6d"/><stop offset="0.15" stop-color="#35ffca"/><stop offset="0.2" stop-color="#00e6ff"/><stop offset="0.25" stop-color="#00a6ff"/><stop offset="0.3" stop-color="#0074ff"/><stop offset="0.35" stop-color="#0050ff"/><stop offset="0.4" stop-color="#003aff"/><stop offset="0.45" stop-color="#0032ff"/><stop offset="0.5" stop-color="#0038ff"/><stop offset="0.55" stop-color="#004cff"/><stop offset="0.6" stop-color="#006fff"/><stop offset="0.65" stop-color="#009fff"/><stop offset="0.7" stop-color="#00deff"/><stop offset="0.75" stop-color="#2bffd4"/><stop offset="0.8" stop-color="#86ff79"/><stop offset="0.85" stop-color="#efff10"/><stop offset="0.9" stop-color="#ff9800"/><stop offset="0.95" stop-color="#ff1300"/><stop offset="1" stop-color="#800000"/></linearGradient><linearGradient id="g7_1" x1="0" y1="0" x2="0" y2="1"><stop offset="0" stop-color="#ffaa00"/><stop offset="0.05" stop-color="#d7ff28"/><stop offset="0.1" stop-color="#68ff97"/><stop offset="0.15" stop-color="#09fff6"/><stop offset="0.2" stop-color="#00b6ff"/><stop offset="0.25" stop-color="#0073ff"/><stop offset="0.3" stop-color="#003eff"/><stop offset="0.35" stop-color="#0018ff"/><stop offset="0.4" stop-color="#0000ff"/><stop offset="0.45" stop-color="#0000f6"/><stop offset="0.5" stop-color="#0000fb"/><stop offset="0.55" stop-color="#0010ff"/><stop offset="0.6" stop-color="#0032ff"/><stop offset="0.65" stop-color="#0062ff"/><stop offset="0.7" stop-color="#00a1ff"/><stop offset="0.75" stop-color="#00eeff"/><stop offset="0.8" stop-color="#4bffb4"/><stop offset="0.85" stop-color="#b5ff4a"/><stop offset="0.9" stop-color="#ffd000"/><stop offset="0.95" stop-color="#ff4900"/><stop offset="1" stop-color="#b30000"/></linearGradient><linearGradient id="h7_1" gradientUnits="userSpaceOnUse" x1="465.00" y1="0" x2="470.50" y2="0"><stop offset="0" stop-color="#000"/><stop offset="1" stop-color="#fff"/></linearGradient><mask id="m7_1" maskUnits="userSpaceOnUse" x="465.00" y="420" width="16.50" height="98.8"><rect x="465.00" y="420" width="16.50" height="98.8" fill="url(#h7_1)"/></mask><linearGradient id="g7_2" x1="0" y1="0" x2="0" y2="1"><stop offset="0" stop-color="#ffcb00"/><stop offset="0.05" stop-color="#b2ff4d"/><stop offset="0.1" stop-color="#3fffc0"/><stop offset="0.15" stop-color="#00dbff"/><stop offset="0.2" stop-color="#0086ff"/><stop offset="0.25" stop-color="#0040ff"/><stop offset="0.3" stop-color="#0009ff"/><stop offset="0.35" stop-color="#0000e0"/><stop offset="0.4" stop-color="#0000c6"/><stop offset="0.45" stop-color="#0000bb"/><stop offset="0.5" stop-color="#0000bf"/><stop offset="0.55" stop-color="#0000d2"/><stop offset="0.6" stop-color="#0000f4"/><stop offset="0.65" stop-color="#0025ff"/><stop offset="0.7" stop-color="#0064ff"/><stop offset="0.75" stop-color="#00b2ff"/><stop offset="0.8" stop-color="#10ffef"/><stop offset="0.85" stop-color="#7bff84"/><stop offset="0.9" stop-color="#f5ff0a"/><stop offset="0.95" stop-color="#ff7f00"/><stop offset="1" stop-color="#e70000"/></linearGradient><linearGradient id="h7_2" gradientUnits="userSpaceOnUse" x1="470.50" y1="0" x2="476.00" y2="0"><stop offset="0" stop-color="#000"/><stop offset="1" stop-color="#fff"/></linearGradient><mask id="m7_2" maskUnits="userSpaceOnUse" x="470.50" y="420" width="11.00" height="98.8"><rect x="470.50" y="420" width="11.00" height="98.8" fill="url(#h7_2)"/></mask><linearGradient id="g7_3" x1="0" y1="0" x2="0" y2="1"><stop offset="0" stop-color="#ffec00"/><stop offset="0.05" stop-color="#8cff73"/><stop offset="0.1" stop-color="#16ffe9"/><stop offset="0.15" stop-color="#00aeff"/><stop offset="0.2" stop-color="#0056ff"/><stop offset="0.25" stop-color="#000dff"/><stop offset="0.3" stop-color="#0000d3"/><stop offset="0.35" stop-color="#0000a8"/><stop offset="0.4" stop-color="#00008f"/><stop offset="0.45" stop-color="#00008f"/><stop offset="0.5" stop-color="#00008f"/><stop offset="0.55" stop-color="#000096"/><stop offset="0.6" stop-color="#0000b7"/><stop offset="0.65" stop-color="#0000e7"/><stop offset="0.7" stop-color="#0027ff"/><stop offset="0.75" stop-color="#0076ff"/><stop offset="0.8" stop-color="#00d4ff"/><stop offset="0.85" stop-color="#41ffbe"/><stop offset="0.9" stop-color="#bdff42"/><stop offset="0.95" stop-color="#ffb500"/><stop offset="1" stop-color="#ff1b00"/></linearGradient><linearGradient id="h7_3" gradientUnits="userSpaceOnUse" x1="476.00" y1="0" x2="481.50" y2="0"><stop offset="0" stop-color="#000"/><stop offset="1" stop-color="#fff"/></linearGradient><mask id="m7_3" maskUnits="userSpaceOnUse" x="476.00" y="420" width="5.50" height="98.8"><rect x="476.00" y="420" width="5.50" height="98.8" fill="url(#h7_3)"/></mask></defs><rect x="21" y="270.5" width="93" height="98.8" fill="#00008f"/>
<rect x="21" y="270.5" width="17" height="98.8" fill="url(#g0_0)"/>
<rect x="21.00" y="270.5" width="17.00" height="98.8" fill="url(#g0_1)" mask="url(#m0_1)"/>
<rect x="26.67" y="270.5" width="11.33" height="98.8" fill="url(#g0_2)" mask="url(#m0_2)"/>
<rect x="32.33" y="270.5" width="5.67" height="98.8" fill="url(#g0_3)" mask="url(#m0_3)"/>
<rect x="143.5" y="270.5" width="93" height="98.8" fill="#00008f"/>
<rect x="153.9" y="270.5" width="17" height="98.8" fill="url(#g1_0)"/>
<rect x="153.90" y="270.5" width="17.00" height="98.8" fill="url(#g1_1)" mask="url(#m1_1)"/>
<rect x="159.57" y="270.5" width="11.33" height="98.8" fill="url(#g1_2)" mask="url(#m1_2)"/>
<rect x="165.23" y="270.5" width="5.67" height="98.8" fill="url(#g1_3)" mask="url(#m1_3)"/>
<rect x="266" y="270.5" width="93" height="98.8" fill="#00008f"/>
<rect x="287.9" y="270.5" width="16.4" height="98.8" fill="url(#g2_0)"/>
<rect x="287.90" y="270.5" width="16.40" height="98.8" fill="url(#g2_1)" mask="url(#m2_1)"/>
<rect x="293.37" y="270.5" width="10.93" height="98.8" fill="url(#g2_2)" mask="url(#m2_2)"/>
<rect x="298.83" y="270.5" width="5.47" height="98.8" fill="url(#g2_3)" mask="url(#m2_3)"/>
<rect x="388.5" y="270.5" width="93" height="98.8" fill="#00008f"/>
<rect x="421" y="270.5" width="17" height="98.8" fill="url(#g3_0)"/>
<rect x="21" y="420" width="93" height="98.8" fill="#00008f"/>
<rect x="64.9" y="420" width="16.6" height="98.8" fill="url(#g4_0)"/>
<rect x="64.90" y="420" width="16.60" height="98.8" fill="url(#g4_1)" mask="url(#m4_1)"/>
<rect x="70.43" y="420" width="11.07" height="98.8" fill="url(#g4_2)" mask="url(#m4_2)"/>
<rect x="75.97" y="420" width="5.53" height="98.8" fill="url(#g4_3)" mask="url(#m4_3)"/>
<rect x="143.5" y="420" width="93" height="98.8" fill="#00008f"/>
<rect x="197.9" y="420" width="16.6" height="98.8" fill="url(#g5_0)"/>
<rect x="197.90" y="420" width="16.60" height="98.8" fill="url(#g5_1)" mask="url(#m5_1)"/>
<rect x="203.43" y="420" width="11.07" height="98.8" fill="url(#g5_2)" mask="url(#m5_2)"/>
<rect x="208.97" y="420" width="5.53" height="98.8" fill="url(#g5_3)" mask="url(#m5_3)"/>
<rect x="266" y="420" width="93" height="98.8" fill="#00008f"/>
<rect x="331.4" y="420" width="17.4" height="98.8" fill="url(#g6_0)"/>
<rect x="331.40" y="420" width="17.40" height="98.8" fill="url(#g6_1)" mask="url(#m6_1)"/>
<rect x="337.20" y="420" width="11.60" height="98.8" fill="url(#g6_2)" mask="url(#m6_2)"/>
<rect x="343.00" y="420" width="5.80" height="98.8" fill="url(#g6_3)" mask="url(#m6_3)"/>
<rect x="388.5" y="420" width="93" height="98.8" fill="#00008f"/>
<rect x="465" y="420" width="16.5" height="98.8" fill="url(#g7_0)"/>
<rect x="465.00" y="420" width="16.50" height="98.8" fill="url(#g7_1)" mask="url(#m7_1)"/>
<rect x="470.50" y="420" width="11.00" height="98.8" fill="url(#g7_2)" mask="url(#m7_2)"/>
<rect x="476.00" y="420" width="5.50" height="98.8" fill="url(#g7_3)" mask="url(#m7_3)"/></svg>
<div class="pt" style="left:-17px;top:251.2px">-42<sup>°</sup>, PV=3.383μm ;</div>
<div class="pt" style="left:106.7px;top:251.2px">-30<sup>°</sup>, PV=3.180μm ;</div>
<div class="pt" style="left:229px;top:251.2px">-18<sup>°</sup>, PV=3.020μm ;</div>
<div class="pt" style="left:352.6px;top:251.2px">-6<sup>°</sup>, PV=2.356μm ;</div>
<div class="pt" style="left:-15.1px;top:400.3px">6<sup>°</sup>, PV=3.706μm ;</div>
<div class="pt" style="left:107.8px;top:400.3px">18<sup>°</sup>, PV=2.728μm ;</div>
<div class="pt" style="left:229.8px;top:400.3px">30<sup>°</sup>, PV=3.488μm ;</div>
<div class="pt" style="left:351.8px;top:400.3px">42<sup>°</sup>, PV=3.276μm ;</div>
<div class="cap" style="left:215.2px;top:528.1px">(<b>b</b>)</div>
</body></html>
